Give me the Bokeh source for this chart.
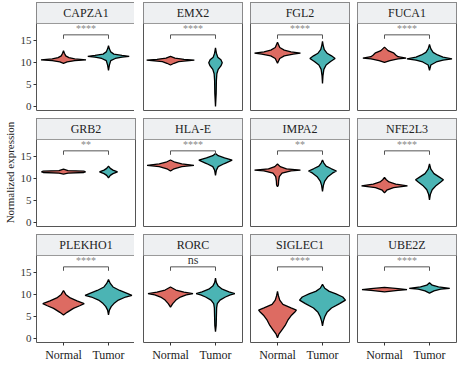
from bokeh.plotting import figure
from bokeh.layouts import gridplot
from bokeh.models import FixedTicker, Range1d
from bokeh.core.properties import value
from bokeh.embed import file_html
from bokeh.resources import INLINE

genes = ["CAPZA1", "EMX2", "FGL2", "FUCA1", "GRB2", "HLA-E", "IMPA2", "NFE2L3",
         "PLEKHO1", "RORC", "SIGLEC1", "UBE2Z"]
groups = ["Normal", "Tumor"]
signif = ["****", "****", "****", "****", "**", "****", "**", "****",
          "****", "ns", "****", "****"]

# Violin outlines: expression level and half-width (x units)
normal_y = {
    "CAPZA1": [9.9, 10.2, 10.5, 10.7, 10.9, 11.2, 11.6, 12.2, 12.8],
    "EMX2": [9.5, 9.9, 10.3, 10.6, 10.8, 11.1, 11.5],
    "FGL2": [9.9, 11.0, 11.6, 12.0, 12.2, 12.5, 12.9, 13.5, 14.7],
    "FUCA1": [10.1, 10.5, 10.9, 11.1, 11.4, 11.8, 12.3, 12.8, 13.6],
    "GRB2": [11.1, 11.3, 11.45, 11.6, 11.75, 11.9, 12.2],
    "HLA-E": [11.8, 12.3, 12.8, 13.1, 13.4, 13.8, 14.3],
    "IMPA2": [8.2, 8.6, 9.5, 10.5, 11.3, 11.8, 12.0, 12.3, 12.8, 13.4],
    "NFE2L3": [6.8, 7.4, 8.0, 8.4, 8.8, 9.3, 9.8, 10.3],
    "PLEKHO1": [5.4, 6.0, 6.9, 7.5, 8.0, 8.6, 9.3, 10.1, 11.0],
    "RORC": [7.2, 8.0, 8.8, 9.5, 10.0, 10.3, 10.6, 11.1, 11.8],
    "SIGLEC1": [0.2, 1.0, 2.0, 3.0, 4.2, 5.2, 6.0, 6.5, 7.0, 7.8, 8.8, 9.8, 10.8],
    "UBE2Z": [10.7, 11.0, 11.2, 11.4, 11.7],
}
normal_w = {
    "CAPZA1": [0, 0.08, 0.25, 0.50, 0.25, 0.12, 0.05, 0.02, 0],
    "EMX2": [0, 0.08, 0.18, 0.53, 0.3, 0.1, 0],
    "FGL2": [0, 0.05, 0.15, 0.35, 0.51, 0.3, 0.15, 0.05, 0],
    "FUCA1": [0, 0.12, 0.3, 0.48, 0.3, 0.25, 0.2, 0.08, 0],
    "GRB2": [0, 0.1, 0.45, 0.49, 0.45, 0.1, 0],
    "HLA-E": [0, 0.08, 0.25, 0.52, 0.25, 0.1, 0],
    "IMPA2": [0, 0.02, 0.025, 0.04, 0.1, 0.3, 0.51, 0.2, 0.06, 0],
    "NFE2L3": [0, 0.05, 0.2, 0.51, 0.25, 0.1, 0.04, 0],
    "PLEKHO1": [0, 0.08, 0.22, 0.36, 0.46, 0.3, 0.15, 0.05, 0],
    "RORC": [0, 0.05, 0.12, 0.22, 0.35, 0.5, 0.3, 0.12, 0],
    "SIGLEC1": [0, 0.03, 0.1, 0.17, 0.23, 0.3, 0.38, 0.42, 0.3, 0.12, 0.05, 0.02, 0],
    "UBE2Z": [0, 0.3, 0.5, 0.3, 0],
}
tumor_y = {
    "CAPZA1": [8.3, 9.5, 10.5, 11.0, 11.3, 11.5, 11.7, 12.0, 12.5, 13.2, 13.9],
    "EMX2": [0, 3, 6, 7.5, 8.5, 9.3, 10.0, 10.7, 11.3, 12.2, 13.4],
    "FGL2": [5.3, 7, 8.5, 9.5, 10.3, 11.0, 11.6, 12.2, 13, 14, 14.9],
    "FUCA1": [8.3, 9.5, 10.2, 10.6, 10.9, 11.3, 11.8, 12.4, 13.2, 14.2],
    "GRB2": [10.2, 10.8, 11.2, 11.6, 12.0, 12.4, 12.9],
    "HLA-E": [10.8, 12.0, 12.8, 13.5, 14.3, 14.8, 15.3, 15.8],
    "IMPA2": [7.1, 8.5, 9.5, 10.5, 11.3, 11.8, 12.3, 12.9, 13.6, 14.3],
    "NFE2L3": [5.2, 6.5, 7.5, 8.5, 9.3, 9.8, 10.4, 11.2, 12.2, 13.4],
    "PLEKHO1": [5.4, 6.5, 7.3, 8.0, 8.8, 9.5, 9.9, 10.4, 11.0, 11.8, 12.6, 13.5],
    "RORC": [1.6, 3, 5, 7, 8.0, 8.8, 9.5, 10.0, 10.3, 10.7, 11.3, 12.0, 12.8, 13.8],
    "SIGLEC1": [2.9, 4.0, 5.0, 6.0, 7.0, 8.0, 8.8, 9.5, 10.2, 10.8, 11.5, 12.4],
    "UBE2Z": [10.4, 10.9, 11.3, 11.5, 11.8, 12.2, 12.75],
}
tumor_w = {
    "CAPZA1": [0, 0.02, 0.05, 0.15, 0.3, 0.46, 0.3, 0.12, 0.05, 0.02, 0],
    "EMX2": [0, 0.015, 0.02, 0.03, 0.06, 0.12, 0.15, 0.12, 0.05, 0.02, 0],
    "FGL2": [0, 0.01, 0.03, 0.08, 0.18, 0.28, 0.2, 0.1, 0.04, 0.015, 0],
    "FUCA1": [0, 0.03, 0.15, 0.3, 0.5, 0.3, 0.18, 0.08, 0.03, 0],
    "GRB2": [0, 0.04, 0.1, 0.2, 0.1, 0.04, 0],
    "HLA-E": [0, 0.02, 0.06, 0.2, 0.37, 0.2, 0.06, 0],
    "IMPA2": [0, 0.02, 0.05, 0.12, 0.22, 0.31, 0.2, 0.08, 0.03, 0],
    "NFE2L3": [0, 0.02, 0.06, 0.15, 0.25, 0.31, 0.22, 0.1, 0.03, 0],
    "PLEKHO1": [0, 0.02, 0.06, 0.12, 0.22, 0.38, 0.52, 0.4, 0.25, 0.1, 0.04, 0],
    "RORC": [0, 0.015, 0.02, 0.025, 0.04, 0.1, 0.22, 0.33, 0.43, 0.3, 0.15, 0.06, 0.02, 0],
    "SIGLEC1": [0, 0.02, 0.05, 0.1, 0.2, 0.38, 0.51, 0.45, 0.3, 0.15, 0.05, 0],
    "UBE2Z": [0, 0.1, 0.25, 0.45, 0.2, 0.06, 0],
}
y_ticks = [0, 5, 10, 15]

bracket_y = 16.4
bracket_foot = 15.5
label_y = 17.9

colors = {"Normal": "#DD6B62", "Tumor": "#4BB4B4"}
FONT = "Liberation Serif"
Y_LO, Y_HI, STRIP_TOP = -0.9, 19.0, 23.8
FW, FH = 99, 108


def outline(center, ys, ws):
    xs = [center + w for w in ws] + [center - w for w in reversed(ws)]
    yy = list(ys) + list(reversed(ys))
    return xs, yy


figs = []
for i, g in enumerate(genes):
    r, c = divmod(i, 4)
    left = c == 0
    bottom = r == 2
    p = figure(frame_width=FW, frame_height=FH,
               x_range=Range1d(0.4, 2.6), y_range=Range1d(Y_LO, STRIP_TOP),
               output_backend="svg", toolbar_location=None,
               x_axis_location="below" if bottom else None,
               y_axis_location="left" if left else None,
               min_border_left=31 if left else 4, min_border_right=4,
               min_border_top=2 if r == 0 else 4, min_border_bottom=4)
    p.xgrid.visible = False
    p.ygrid.visible = False
    p.outline_line_color = "#555555"
    p.outline_line_width = 1
    p.background_fill_color = "white"

    # strip header
    p.quad(left=[0.4], right=[2.6], bottom=[Y_HI], top=[STRIP_TOP],
           fill_color="#eef0f2", line_color="#999999", line_width=1)
    p.text(x=[1.5], y=[(Y_HI + STRIP_TOP) / 2], text=[g],
           text_font=value(FONT), text_font_size="12px", text_color="#222222",
           text_align="center", text_baseline="middle")

    # violins
    for k, (grp, yd, wd) in enumerate([("Normal", normal_y, normal_w),
                                       ("Tumor", tumor_y, tumor_w)]):
        xs, ys = outline(k + 1, yd[g], wd[g])
        p.patch(xs, ys, fill_color=colors[grp], line_color="black", line_width=1.3)

    # significance bracket
    p.line([1, 1, 2, 2], [bracket_foot, bracket_y, bracket_y, bracket_foot],
           line_color="#555555", line_width=1)
    s = signif[i]
    p.text(x=[1.5], y=[label_y if s != "ns" else label_y + 0.1], text=[s],
           text_font=value(FONT),
           text_font_size="10px" if s != "ns" else "12px",
           text_color="#888888" if s != "ns" else "#333333",
           text_align="center", text_baseline="middle")

    for ax in p.axis:
        ax.axis_line_color = None
        ax.major_tick_line_color = "#333333"
        ax.major_tick_out = 3
        ax.major_tick_in = 0
        ax.minor_tick_line_color = None
        ax.major_label_text_font = FONT
        ax.major_label_text_color = "#333333"
        ax.major_label_standoff = 2
    if left:
        p.yaxis.ticker = FixedTicker(ticks=y_ticks)
        p.yaxis.major_label_text_font_size = "11px"
        if r == 1:
            p.yaxis.axis_label = "Normalized expression"
            p.yaxis.axis_label_text_font = FONT
            p.yaxis.axis_label_text_font_style = "normal"
            p.yaxis.axis_label_text_font_size = "11px"
            p.yaxis.axis_label_text_color = "#222222"
            p.yaxis.axis_label_standoff = 2
    if bottom:
        p.xaxis.ticker = FixedTicker(ticks=[1, 2])
        p.xaxis.major_label_overrides = {1: groups[0], 2: groups[1]}
        p.xaxis.major_label_text_font_size = "12px"
        p.xaxis.major_label_text_color = "#222222"
    figs.append(p)

grid = gridplot([figs[0:4], figs[4:8], figs[8:12]], toolbar_location=None)
open("out.html", "w").write(file_html(grid, INLINE))
